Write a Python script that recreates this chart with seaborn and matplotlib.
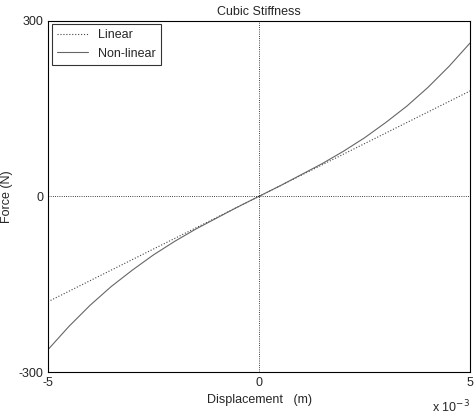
import matplotlib
matplotlib.use("Agg")
import matplotlib.pyplot as plt
import seaborn as sns
import pandas as pd

sns.set_style("white")
plt.rcParams['font.family'] = ['Liberation Sans', 'DejaVu Sans']
plt.rcParams['axes.unicode_minus'] = False

disp_mm = [-5, -4.5, -4, -3.5, -3, -2.5, -2, -1.5, -1, -0.5, 0, 0.5, 1, 1.5, 2, 2.5, 3, 3.5, 4, 4.5, 5]
linear = [-180, -162, -144, -126, -108, -90, -72, -54, -36, -18, 0, 18, 36, 54, 72, 90, 108, 126, 144, 162, 180]
nonlinear = [-262, -222, -186, -154, -126, -100, -77, -56, -37, -18, 0, 18, 37, 56, 77, 100, 126, 154, 186, 222, 262]

df = pd.DataFrame({"x": disp_mm, "Linear": linear, "Non-linear": nonlinear})

fig = plt.figure(figsize=(4.74, 4.12), dpi=100)
ax = fig.add_axes([0.101, 0.097, 0.891, 0.853])
sns.lineplot(data=df, x="x", y="Linear", ax=ax, color="#444444", lw=0.8, linestyle=":", label="Linear")
sns.lineplot(data=df, x="x", y="Non-linear", ax=ax, color="#666666", lw=0.8, label="Non-linear")
ax.axvline(0, color="black", lw=0.6, linestyle=":")
ax.axhline(0, color="black", lw=0.6, linestyle=":")
ax.set_xlim(-5, 5)
ax.set_ylim(-300, 300)
ax.set_xticks([-5, 0, 5])
ax.set_yticks([-300, 0, 300])
ax.tick_params(direction="in", labelsize=9, length=3)
for s in ax.spines.values():
    s.set_color("black"); s.set_linewidth(0.8)
ax.set_xlabel("Displacement   (m)", fontsize=9)
ax.set_ylabel("Force (N)", fontsize=9)
ax.set_title("Cubic Stiffness", fontsize=9, pad=4)
ax.text(1.0, -0.075, r"x 10$^{-3}$", transform=ax.transAxes, ha="right", va="top", fontsize=9)
leg = ax.legend(loc="upper left", fontsize=9, frameon=True, fancybox=False, edgecolor="black",
                borderaxespad=0.3, handlelength=2.5)
leg.get_frame().set_linewidth(0.8)
fig.savefig("out.png", dpi=100)
